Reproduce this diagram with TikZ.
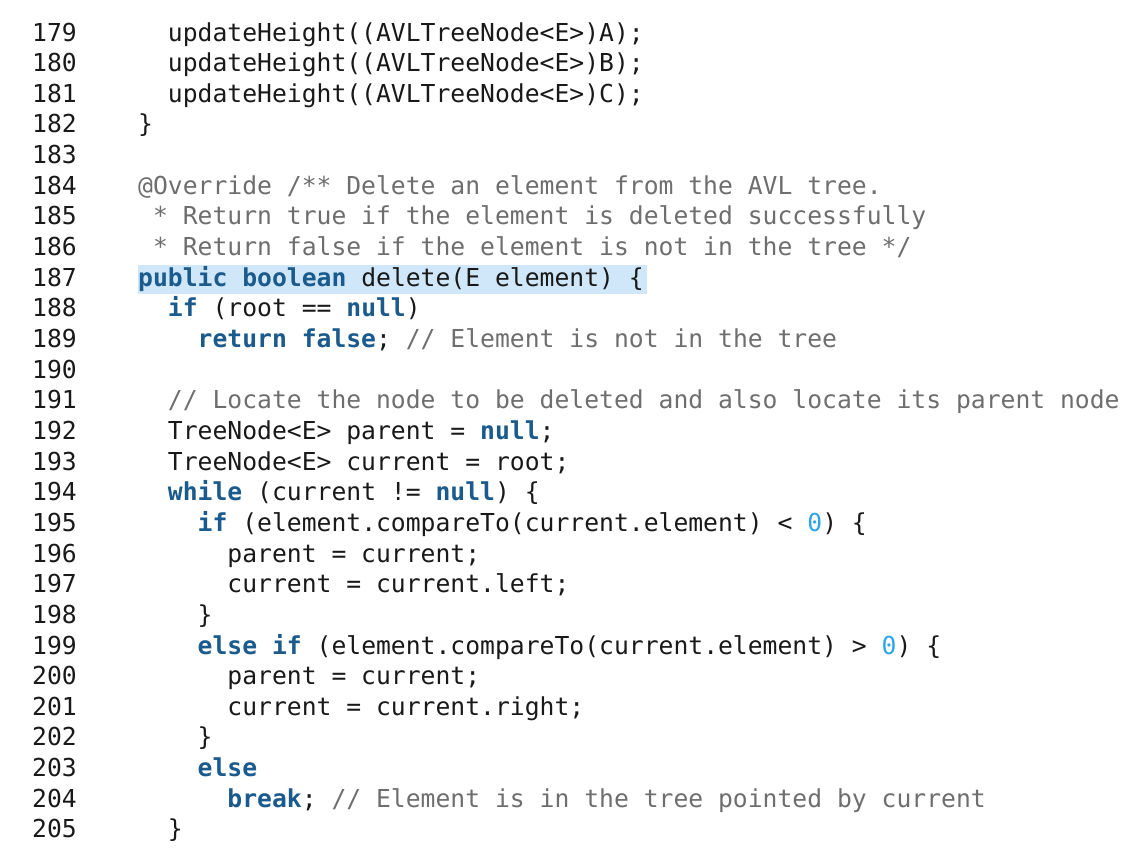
\documentclass[tikz,border=0pt]{standalone}
\usepackage{fontspec}
\setmonofont{DejaVu Sans Mono}
\definecolor{kw}{HTML}{1B5A8C}
\definecolor{cm}{HTML}{6E6E6E}
\definecolor{num}{HTML}{2BA5E8}
\definecolor{hl}{HTML}{CFE7F8}
\newcommand{\K}[1]{\textcolor{kw}{\bfseries #1}}
\newcommand{\C}[1]{\textcolor{cm}{#1}}
\newcommand{\N}[1]{\textcolor{num}{#1}}
\begin{document}
\begin{tikzpicture}[x=1pt,y=-1pt,font=\ttfamily\fontsize{24.7}{26}\selectfont,
  code/.style={anchor=base west,inner sep=0pt,text=black!90},
  lnum/.style={anchor=base east,inner sep=0pt,text=black!90}]
\useasboundingbox (0,0) rectangle (1142,852);
\fill[hl] (138,265) rectangle (647,294);
\foreach \n [count=\i from 0] in {179,...,205}{
  \node[lnum] (n\n) at (77,{41+\i*30.65}) {\n};
}
\newcommand{\Ln}[3]{\node[code] (c#1) at ({138+#2*14.87},{41+(#1-179)*30.65}) {#3};}
\Ln{179}{2}{updateHeight((AVLTreeNode<E>)A);}
\Ln{180}{2}{updateHeight((AVLTreeNode<E>)B);}
\Ln{181}{2}{updateHeight((AVLTreeNode<E>)C);}
\Ln{182}{0}{\}}
\Ln{184}{0}{\C{@Override /** Delete an element from the AVL tree.}}
\Ln{185}{1}{\C{* Return true if the element is deleted successfully}}
\Ln{186}{1}{\C{* Return false if the element is not in the tree */}}
\Ln{187}{0}{\K{public boolean} delete(E element) \{}
\Ln{188}{2}{\K{if} (root == \K{null})}
\Ln{189}{4}{\K{return false}; \C{// Element is not in the tree}}
\Ln{191}{2}{\C{// Locate the node to be deleted and also locate its parent node}}
\Ln{192}{2}{TreeNode<E> parent = \K{null};}
\Ln{193}{2}{TreeNode<E> current = root;}
\Ln{194}{2}{\K{while} (current != \K{null}) \{}
\Ln{195}{4}{\K{if} (element.compareTo(current.element) < \N{0}) \{}
\Ln{196}{6}{parent = current;}
\Ln{197}{6}{current = current.left;}
\Ln{198}{4}{\}}
\Ln{199}{4}{\K{else if} (element.compareTo(current.element) > \N{0}) \{}
\Ln{200}{6}{parent = current;}
\Ln{201}{6}{current = current.right;}
\Ln{202}{4}{\}}
\Ln{203}{4}{\K{else}}
\Ln{204}{6}{\K{break}; \C{// Element is in the tree pointed by current}}
\Ln{205}{2}{\}}
\end{tikzpicture}
\end{document}
